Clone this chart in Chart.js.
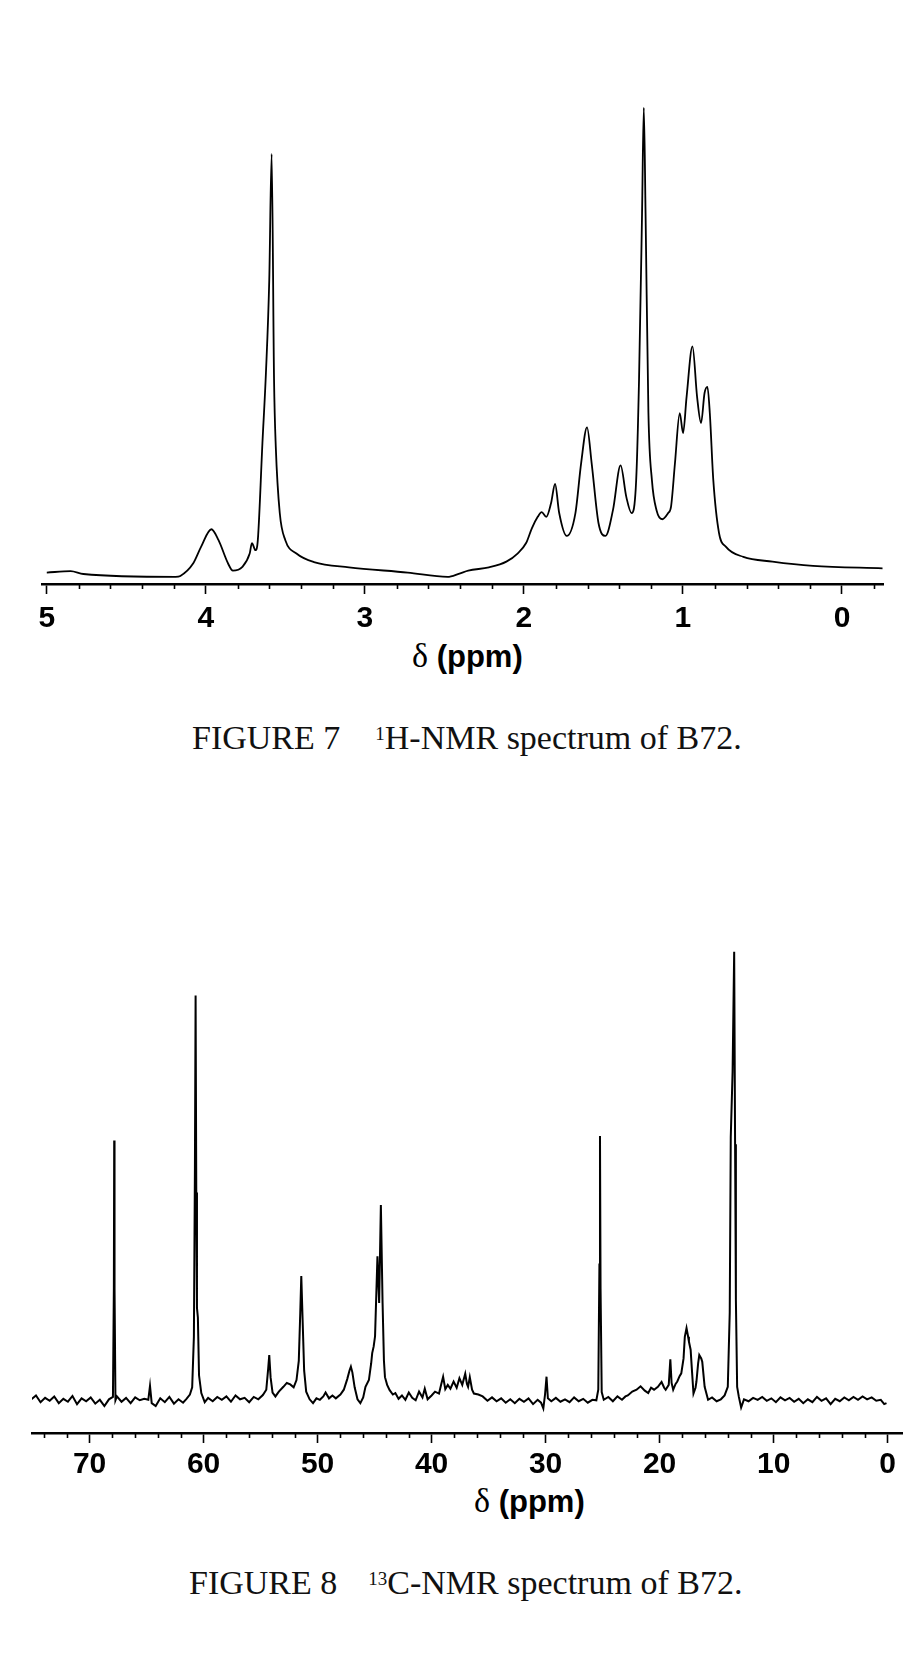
<!DOCTYPE html>
<html lang="en">
<head>
<meta charset="utf-8">
<title>B72 NMR spectra</title>
<script src="https://cdn.jsdelivr.net/npm/chart.js@4.4.1/dist/chart.umd.min.js"></script>
<style>
  html,body{margin:0;padding:0;background:#fff;}
  body{width:911px;height:1679px;position:relative;overflow:hidden;color:#000;}
  .plot{position:absolute;}
  .plot canvas{display:block;}
  .axt{position:absolute;white-space:nowrap;font:bold 31px/30px "Liberation Sans",Arial,sans-serif;}
  .axt .d{font:normal 34px/30px "Liberation Serif","Times New Roman",serif;}
  .cap{position:absolute;white-space:nowrap;font:34px/34px "Liberation Serif","Times New Roman",serif;color:#111;}
  .cap sup{font-size:19px;line-height:0;vertical-align:9px;margin-left:35px;}
  #cap8 sup{margin-left:31px;}
</style>
</head>
<body>

<div class="plot" style="left:22px;top:103px;width:881px;height:533px"><canvas id="hChart"></canvas></div>
<div class="axt" style="left:412px;top:641px"><span class="d">δ</span> (ppm)</div>
<div class="cap" style="left:192px;top:721px">FIGURE 7<sup>1</sup>H-NMR spectrum of B72.</div>

<div class="plot" style="left:12px;top:947px;width:895px;height:535px"><canvas id="cChart"></canvas></div>
<div class="axt" style="left:474px;top:1486px"><span class="d">δ</span> (ppm)</div>
<div class="cap" id="cap8" style="left:189px;top:1566px">FIGURE 8<sup>13</sup>C-NMR spectrum of B72.</div>

<script>
/* B72 NMR spectra: 1H (fig 7) and 13C (fig 8) */
const $ = (sel, el=document) => el.querySelector(sel);

// ---- 1H spectrum, chemical shift (ppm) and relative intensity (tallest = 100)
const H_PPM = [5.00, 4.85, 4.77, 4.19, 4.16, 4.08, 4.03, 3.965, 3.92, 3.86,
  3.83, 3.77, 3.724, 3.71, 3.688, 3.673, 3.644, 3.622, 3.601, 3.586,
  3.571, 3.56, 3.535, 3.50, 3.43, 3.32, 3.10, 2.73, 2.48, 2.405,
  2.35, 2.22, 2.11, 2.04, 1.986, 1.95, 1.913, 1.888, 1.859, 1.829,
  1.804, 1.778, 1.731, 1.676, 1.64, 1.603, 1.574, 1.531, 1.487, 1.44,
  1.392, 1.356, 1.323, 1.294, 1.276, 1.257, 1.246, 1.235, 1.217, 1.195,
  1.166, 1.13, 1.093, 1.075, 1.05, 1.02, 0.999, 0.977, 0.94, 0.911,
  0.886, 0.864, 0.846, 0.831, 0.809, 0.773, 0.729, 0.62, 0.437, 0.182,
  -0.255];
const H_INT = [2.4, 2.7, 2.1, 1.5, 1.7, 4.3, 7.8, 11.5, 9.2, 4.3,
  2.8, 3.6, 6.4, 8.6, 7.1, 9.2, 29.6, 44.3, 63.9, 90.3,
  42.9, 28.8, 14.9, 9.2, 6.4, 4.6, 3.5, 2.4, 1.5, 2.2,
  2.8, 3.5, 4.7, 6.4, 8.6, 11.7, 14.1, 15.1, 14.1, 17.0,
  21.0, 14.9, 10.1, 14.9, 25.4, 32.9, 25.4, 12.8, 10.1, 15.5,
  24.9, 18.3, 14.9, 21.8, 42.9, 77.9, 100, 77.9, 35.9, 21.8,
  15.5, 13.6, 14.9, 16.2, 25.4, 35.9, 31.7, 39.3, 49.9, 39.3,
  33.8, 40.1, 41.4, 35.9, 21.8, 10.7, 7.8, 5.7, 4.7, 3.8,
  3.3];

// ---- 13C spectrum, same idea; baseline noise read by eye
const C_PPM = [
  75.1, 74.7, 74.3, 73.9, 73.5, 73.1, 72.7, 72.3, 71.9, 71.5,
  71.1, 70.7, 70.3, 69.9, 69.5, 69.1, 68.7, 68.3, 67.95, 67.87,
  67.84, 67.81, 67.73, 67.6, 67.2, 66.8, 66.4, 66.0, 65.6, 65.2,
  64.85, 64.7, 64.55, 64.2, 63.8, 63.4, 63.0, 62.6, 62.2, 61.8,
  61.5, 61.2, 61.0, 60.85, 60.76, 60.70, 60.64, 60.58, 60.5, 60.4,
  60.2, 59.9, 59.6, 59.2, 58.8, 58.4, 58.0, 57.6, 57.2, 56.8,
  56.4, 56.0, 55.6, 55.2, 54.8, 54.5, 54.33, 54.24, 54.12, 53.95,
  53.7, 53.4, 53.0, 52.7, 52.4, 52.1, 51.85, 51.65, 51.52, 51.43,
  51.32, 51.18, 51.0, 50.7, 50.4, 50.1, 49.8, 49.5, 49.3, 49.0,
  48.7, 48.4, 48.0, 47.7, 47.4, 47.2, 47.08, 46.95, 46.75, 46.5,
  46.25, 46.0, 45.8, 45.5, 45.3, 45.21, 45.08, 44.96, 44.75, 44.6,
  44.45, 44.3, 44.18, 44.09, 43.9, 43.68, 43.4, 43.18, 42.9, 42.6,
  42.3, 42.0, 41.7, 41.4, 41.1, 40.8, 40.6, 40.35, 40.0, 39.7,
  39.35, 39.15, 38.99, 38.8, 38.58, 38.35, 38.07, 37.8, 37.56, 37.31,
  37.05, 36.9, 36.8, 36.65, 36.45, 36.29, 35.9, 35.52, 35.1, 34.7,
  34.3, 33.9, 33.5, 33.1, 32.7, 32.3, 31.9, 31.5, 31.1, 30.7,
  30.4, 30.2, 30.05, 29.92, 29.8, 29.5, 29.1, 28.7, 28.3, 27.9,
  27.5, 27.1, 26.7, 26.3, 25.9, 25.55, 25.38, 25.28, 25.23, 25.18,
  25.08, 24.9, 24.5, 24.1, 23.7, 23.3, 23.0, 22.79, 22.4, 22.02,
  21.67, 21.3, 21.0, 20.75, 20.49, 20.15, 19.83, 19.6, 19.47, 19.2,
  19.06, 18.95, 18.81, 18.6, 18.45, 18.25, 18.10, 17.9, 17.79, 17.64,
  17.5, 17.43, 17.28, 17.15, 17.03, 16.85, 16.77, 16.62, 16.52, 16.35,
  16.26, 16.05, 15.75, 15.4, 15.0, 14.63, 14.3, 14.02, 13.85, 13.76,
  13.6, 13.46, 13.38, 13.31, 13.2, 13.05, 12.85, 12.6, 12.2, 11.8,
  11.4, 11.0, 10.6, 10.2, 9.8, 9.4, 9.0, 8.6, 8.2, 7.8,
  7.4, 7.0, 6.6, 6.2, 5.8, 5.4, 5.0, 4.6, 4.2, 3.8,
  3.4, 3.0, 2.6, 2.2, 1.8, 1.4, 1.0, 0.6, 0.3, 0.1];
const C_INT = [
  7.0, 7.8, 6.4, 7.3, 6.7, 7.6, 6.2, 7.1, 6.5, 7.7,
  6.0, 7.2, 6.6, 7.4, 6.1, 6.9, 5.6, 7.0, 7.5, 30,
  60.8, 30, 6.8, 7.6, 6.5, 7.3, 6.2, 7.4, 6.8, 7.1,
  6.9, 9.8, 6.2, 5.6, 7.2, 6.4, 7.5, 6.1, 7.0, 6.3,
  7.1, 8.0, 9.5, 20, 55, 90.9, 50, 26, 24, 12,
  8.3, 6.4, 7.3, 6.6, 7.5, 6.9, 7.6, 6.5, 7.8, 7.0,
  7.3, 6.4, 7.5, 7.0, 7.9, 9.0, 13.5, 16.2, 11.5, 8.4,
  7.6, 8.6, 9.6, 10.4, 10.1, 9.5, 11.0, 15, 25, 32.6,
  24, 13, 8.6, 7.0, 6.2, 7.2, 6.9, 7.6, 8.4, 7.2,
  7.8, 7.2, 8.0, 9.0, 11.2, 13.0, 13.8, 12.6, 9.5, 7.0,
  6.2, 7.4, 9.6, 11.0, 14.5, 16.6, 18, 20.1, 36.7, 27,
  47.4, 27, 15, 11.6, 10.0, 8.9, 8.0, 8.3, 7.1, 7.8,
  6.9, 8.4, 7.3, 6.8, 8.6, 7.4, 9.2, 7.0, 7.8, 8.6,
  8.2, 10.2, 11.7, 9.1, 10.0, 9.2, 10.7, 9.4, 11.4, 10.0,
  12.3, 10.2, 9.6, 11.6, 9.0, 8.2, 8.0, 7.6, 6.7, 7.4,
  6.6, 7.2, 6.3, 7.0, 6.2, 7.1, 6.5, 7.2, 6.0, 6.9,
  6.3, 5.1, 8.0, 11.7, 7.2, 6.6, 7.3, 6.5, 7.0, 6.4,
  7.4, 6.6, 7.1, 6.3, 6.9, 6.8, 9, 35, 61.7, 30,
  8.5, 6.9, 7.5, 6.6, 7.6, 6.9, 7.6, 7.8, 8.6, 9.0,
  9.7, 8.8, 8.3, 9.4, 9.0, 9.6, 10.6, 9.4, 9.0, 10.0,
  15.3, 10.4, 9.0, 10.2, 10.7, 11.8, 12.4, 15.5, 20.0, 21.8,
  20.0, 19.0, 17.3, 12.5, 8.2, 9.4, 10.7, 14.5, 16.2, 15.5,
  14.8, 9.6, 6.9, 7.4, 6.6, 7.0, 7.8, 9.6, 25, 61.5,
  75, 100, 60, 27.7, 9.6, 7.5, 5.3, 7.0, 6.6, 7.3,
  6.9, 7.5, 6.7, 7.2, 6.4, 7.4, 6.8, 7.3, 6.5, 7.1,
  6.2, 7.0, 6.4, 7.5, 6.7, 7.2, 6.0, 7.1, 6.6, 7.4,
  6.8, 7.5, 6.9, 7.6, 7.0, 7.4, 6.7, 6.9, 6.0, 6.2];

// axis ranges (ppm, high field on the right)
const H_RANGE = [-0.258, 5.03];
const C_RANGE = [-1.26, 75.05];

// short minor ticks between the labelled ones
const minorTicks = {
  id: 'minorTicks',
  afterDraw(chart, args, o){
    const sc = chart.scales.x, ctx = chart.ctx;
    const y0 = sc.top;
    ctx.save();
    ctx.strokeStyle = '#000';
    ctx.lineWidth = 1.6;
    for(let i = Math.ceil(sc.min / o.step); i * o.step <= sc.max; i++){
      const v = i * o.step;
      if(Math.abs(v / o.major - Math.round(v / o.major)) < 1e-6) continue;
      const x = Math.round(sc.getPixelForValue(v)) + 0.5;
      ctx.beginPath(); ctx.moveTo(x, y0); ctx.lineTo(x, y0 + o.length); ctx.stroke();
    }
    ctx.restore();
  }
};

function spectrum(id, ppm, inten, o){
  const pts = ppm.map((x,i) => ({x, y: inten[i]}));
  return new Chart($(id), {
    type: 'line',
    data: { datasets: [{ data: pts, borderColor:'#000', borderWidth:o.lw, pointRadius:0,
      cubicInterpolationMode: o.smooth ? 'monotone' : 'default', fill:false }]},
    options: {
      animation:false, responsive:true, maintainAspectRatio:false, devicePixelRatio:1,
      layout: { padding: { left:20, right:o.padRight, top:0, bottom:0 } },
      plugins: { legend:{display:false}, tooltip:{enabled:false},
        minorTicks: { step:o.minor, major:o.major, length:5 } },
      scales: {
        x: {
          type:'linear', reverse:true, min:o.range[0], max:o.range[1],
          border: { display:true, color:'#000', width:2.5 },
          grid: { drawOnChartArea:false, color:'#000', tickLength:10, tickWidth:1.6 },
          ticks: { stepSize:o.major, includeBounds:false, autoSkip:false, maxRotation:0,
            color:'#000', padding:o.labelPad,
            font: { family:'"Liberation Sans", Arial, sans-serif', size:30, weight:'bold' } },
          afterFit: s => { s.height = o.axisH; }
        },
        y: { display:false, min:0, max:101 }
      }
    },
    plugins: [minorTicks]
  });
}

spectrum('#hChart', H_PPM, H_INT, { range:H_RANGE, major:1, minor:0.2, lw:1.8, smooth:true,
  padRight:20, labelPad:7, axisH:52 });
spectrum('#cChart', C_PPM, C_INT, { range:C_RANGE, major:10, minor:2, lw:2, smooth:false,
  padRight:5, labelPad:4, axisH:49 });
</script>
</body>
</html>
